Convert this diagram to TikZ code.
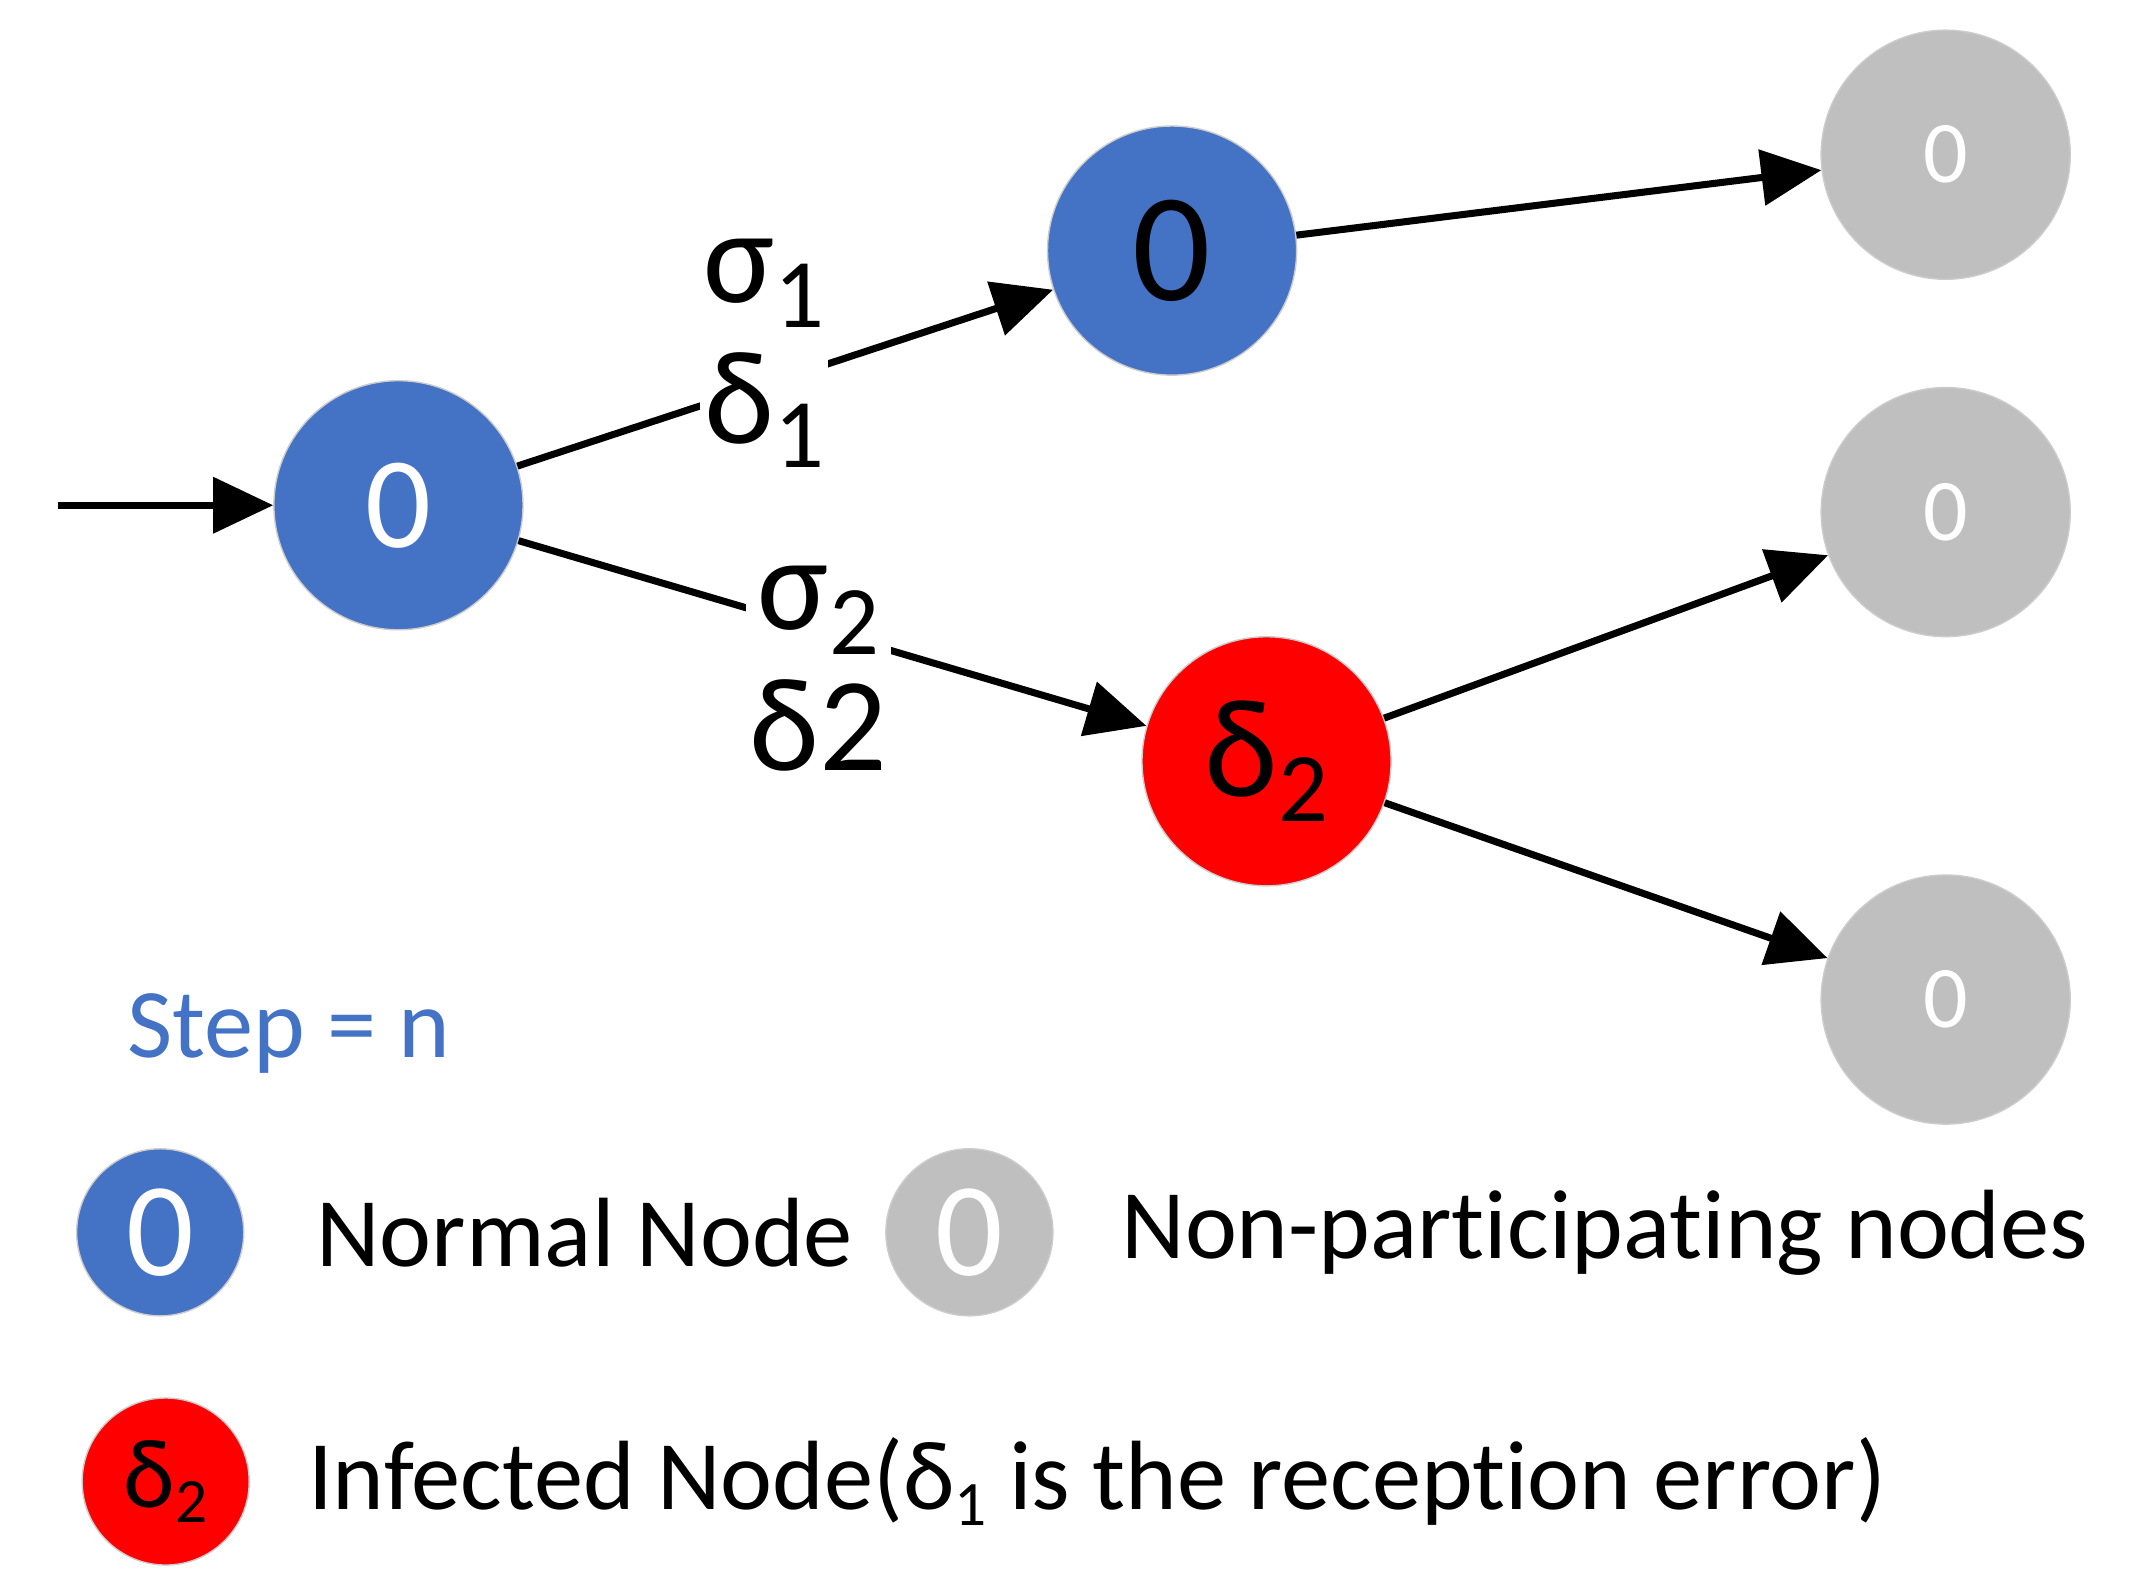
\documentclass[tikz,border=0pt]{standalone}
\usepackage{fontspec}
\setmainfont{Carlito}[Ligatures={NoCommon}]
\usetikzlibrary{positioning,arrows.meta}
\definecolor{nodeblue}{HTML}{4472C4}
\definecolor{nodered}{HTML}{FF0000}
\definecolor{nodegray}{HTML}{BFBFBF}
\newcommand{\lowsub}[2][18]{{\fontsize{#1}{#1}\selectfont\raisebox{-0.25em}{#2}}}
\tikzset{
  state/.style={circle, minimum size=2.49cm, inner sep=0pt, draw=white!80!black, line width=0.4pt},
  normal/.style={state, fill=nodeblue, text=white, font=\fontsize{37}{37}\selectfont},
  infected/.style={state, fill=nodered, text=black, font=\fontsize{40}{40}\selectfont},
  idle/.style={state, fill=nodegray, text=white, font=\fontsize{25}{25}\selectfont},
  legend/.style={circle, minimum size=1.67cm, inner sep=0pt, draw=white!80!black},
  edgelbl/.style={fill=white, inner sep=1pt, align=center, font=\fontsize{38}{40}\selectfont},
  legtext/.style={anchor=west, font=\fontsize{28}{28}\selectfont},
  flow/.style={line width=2pt, -{Triangle[length=0.6cm,width=0.55cm]}}
}
\begin{document}
\begin{tikzpicture}[x=0.01369cm, y=-0.01369cm]
  \useasboundingbox (0,0) rectangle (1560,1148);
  % main graph
  \coordinate (in) at (42,369);
  \node (src) [normal] at (291,369) {0};
  \node (up) [normal, font=\fontsize{44}{44}\selectfont, text=black] at (856,183) {0};
  \node (bad) [infected] at (925,556) {δ\lowsub[28]{2}};
  \node (g1) [idle] at (1421,113) {0};
  \node (g2) [idle] at (1421,374) {0};
  \node (g3) [idle] at (1421,730) {0};

  \draw[flow] (in) -- (src);
  \draw[flow] (src) -- node[edgelbl, xshift=-6pt, yshift=7pt] {σ\lowsub[28]{1}\\δ\lowsub[28]{1}} (up);
  \draw[flow] (src) -- node[edgelbl, xshift=-4pt, yshift=-10pt] {σ\lowsub[28]{2}\\δ2} (bad);
  \draw[flow] (up) -- (g1);
  \draw[flow] (bad) -- (g2);
  \draw[flow] (bad) -- (g3);

  % legend
  \node (step) [anchor=west, text=nodeblue, font=\fontsize{28}{28}\selectfont] at (84,755) {Step = n};
  \node (lnormal) [legend, fill=nodeblue, text=white, font=\fontsize{38}{38}\selectfont] at (117,900) {0};
  \node (tnormal) [legtext] at (222,900) {Normal Node};
  \node (lidle) [legend, fill=nodegray, text=white, font=\fontsize{38}{38}\selectfont] at (708,900) {0};
  \node (tidle) [legtext] at (810,900) {Non-participating nodes};
  \node (lbad) [legend, fill=nodered, text=black, font=\fontsize{28}{28}\selectfont] at (121,1082) {δ\lowsub{2}};
  \node (tbad) [legtext] at (216,1082) {Infected Node(δ\lowsub{1} is the reception error)};
\end{tikzpicture}
\end{document}
